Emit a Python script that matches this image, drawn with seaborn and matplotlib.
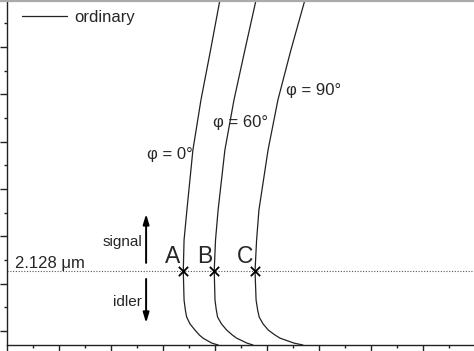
import numpy as np
import pandas as pd
import matplotlib
matplotlib.use("Agg")
import matplotlib.pyplot as plt
from matplotlib.ticker import MultipleLocator, NullFormatter
import seaborn as sns

# ---- data (plot units: x = bottom tick index, y = left tick index) ----
y_pts = [14.0, 11.88, 9.77, 7.65, 5.12, 3.85, 2.54, 1.31, 0.89, 0.59, 0.30,
         0.04, -0.17, -0.30, -0.42, -0.51, -0.59]
x_phi0 = [8.19, 7.83, 7.46, 7.15, 6.92, 6.81, 6.78, 6.81, 6.86, 6.91, 7.04,
          7.23, 7.40, 7.54, 7.73, 7.88, 8.12]
x_phi60 = [9.58, 9.15, 8.73, 8.38, 8.12, 8.02, 7.97, 8.00, 8.05, 8.10, 8.25,
           8.45, 8.67, 8.83, 9.06, 9.23, 9.46]
x_phi90 = [11.46, 10.92, 10.42, 10.04, 9.69, 9.60, 9.54, 9.58, 9.64, 9.70, 9.85,
           10.05, 10.31, 10.50, 10.81, 11.04, 11.38]

level_y = 2.54          # the 2.128 um line
cross_x = [6.78, 7.97, 9.54]
cross_labels = ["A", "B", "C"]

curves = pd.concat([
    pd.DataFrame({"x": x_phi0, "y": y_pts, "phi": "0"}),
    pd.DataFrame({"x": x_phi60, "y": y_pts, "phi": "60"}),
    pd.DataFrame({"x": x_phi90, "y": y_pts, "phi": "90"}),
])

sns.set_theme(style="ticks")
plt.rcParams["font.family"] = ["Liberation Sans", "DejaVu Sans"]
plt.rcParams["axes.linewidth"] = 1.0

fig = plt.figure(figsize=(4.74, 3.51), dpi=100)
ax = fig.add_axes([7 / 474, 6 / 351, 18.5 * 26 / 474, 344 / 351])

for i, (phi, g) in enumerate(curves.groupby("phi", sort=False)):
    sns.lineplot(data=g, x="x", y="y", sort=False, estimator=None, ax=ax,
                 color="#222222", linewidth=0.9,
                 label="ordinary" if i == 0 else None)

ax.axhline(level_y, color="#555555", linestyle=(0, (1, 1.5)), linewidth=0.8)
sns.scatterplot(x=cross_x, y=[level_y] * 3, marker="x", s=45, color="black",
                linewidth=1.3, ax=ax, zorder=5)

ax.set_xlim(0, 18.5)
ax.set_ylim(-0.59, 13.95)
ax.xaxis.set_major_locator(MultipleLocator(2))
ax.xaxis.set_minor_locator(MultipleLocator(1))
ax.yaxis.set_major_locator(MultipleLocator(2))
ax.yaxis.set_minor_locator(MultipleLocator(1))
ax.xaxis.set_major_formatter(NullFormatter())
ax.yaxis.set_major_formatter(NullFormatter())
ax.tick_params(which="major", direction="out", length=5, width=1.0, color="#222222")
ax.tick_params(which="minor", direction="out", length=2.5, width=1.0, color="#222222")
ax.set_xlabel("")
ax.set_ylabel("")
for s in ["top", "right"]:
    ax.spines[s].set_visible(False)
for s in ["left", "bottom"]:
    ax.spines[s].set_color("#222222")

# gray frame edge at top of the picture
fig.add_artist(plt.Line2D([0, 1], [0.996, 0.996], transform=fig.transFigure,
                          color="#aaaaaa", linewidth=1.6))

# labels
ax.text(5.38, 7.48, "φ = 0°", fontsize=12, ha="left", va="center")
ax.text(7.92, 8.80, "φ = 60°", fontsize=12, ha="left", va="center")
ax.text(10.73, 10.15, "φ = 90°", fontsize=12, ha="left", va="center")
for cx, lab in zip([6.38, 7.62, 9.15], cross_labels):
    ax.text(cx, 2.88, lab, fontsize=16.5, ha="center", va="baseline")
ax.text(0.31, 2.66, "2.128 μm", fontsize=12, ha="left", va="baseline")
ax.text(5.19, 3.59, "signal", fontsize=11, ha="right", va="baseline")
ax.text(5.19, 1.06, "idler", fontsize=11, ha="right", va="baseline")

arrow = dict(arrowstyle="-|>,head_length=0.5,head_width=0.15", color="black", lw=1.4,
             shrinkA=0, shrinkB=0)
ax.annotate("", xy=(5.35, 4.95), xytext=(5.35, 2.88), arrowprops=arrow)
ax.annotate("", xy=(5.35, 0.34), xytext=(5.35, 2.20), arrowprops=arrow)

ax.legend(loc="upper left", bbox_to_anchor=(0.031, 0.975), frameon=False,
          fontsize=12, handlelength=2.7, handletextpad=0.45, borderpad=0,
          borderaxespad=0)

fig.savefig("out.png", dpi=100)
